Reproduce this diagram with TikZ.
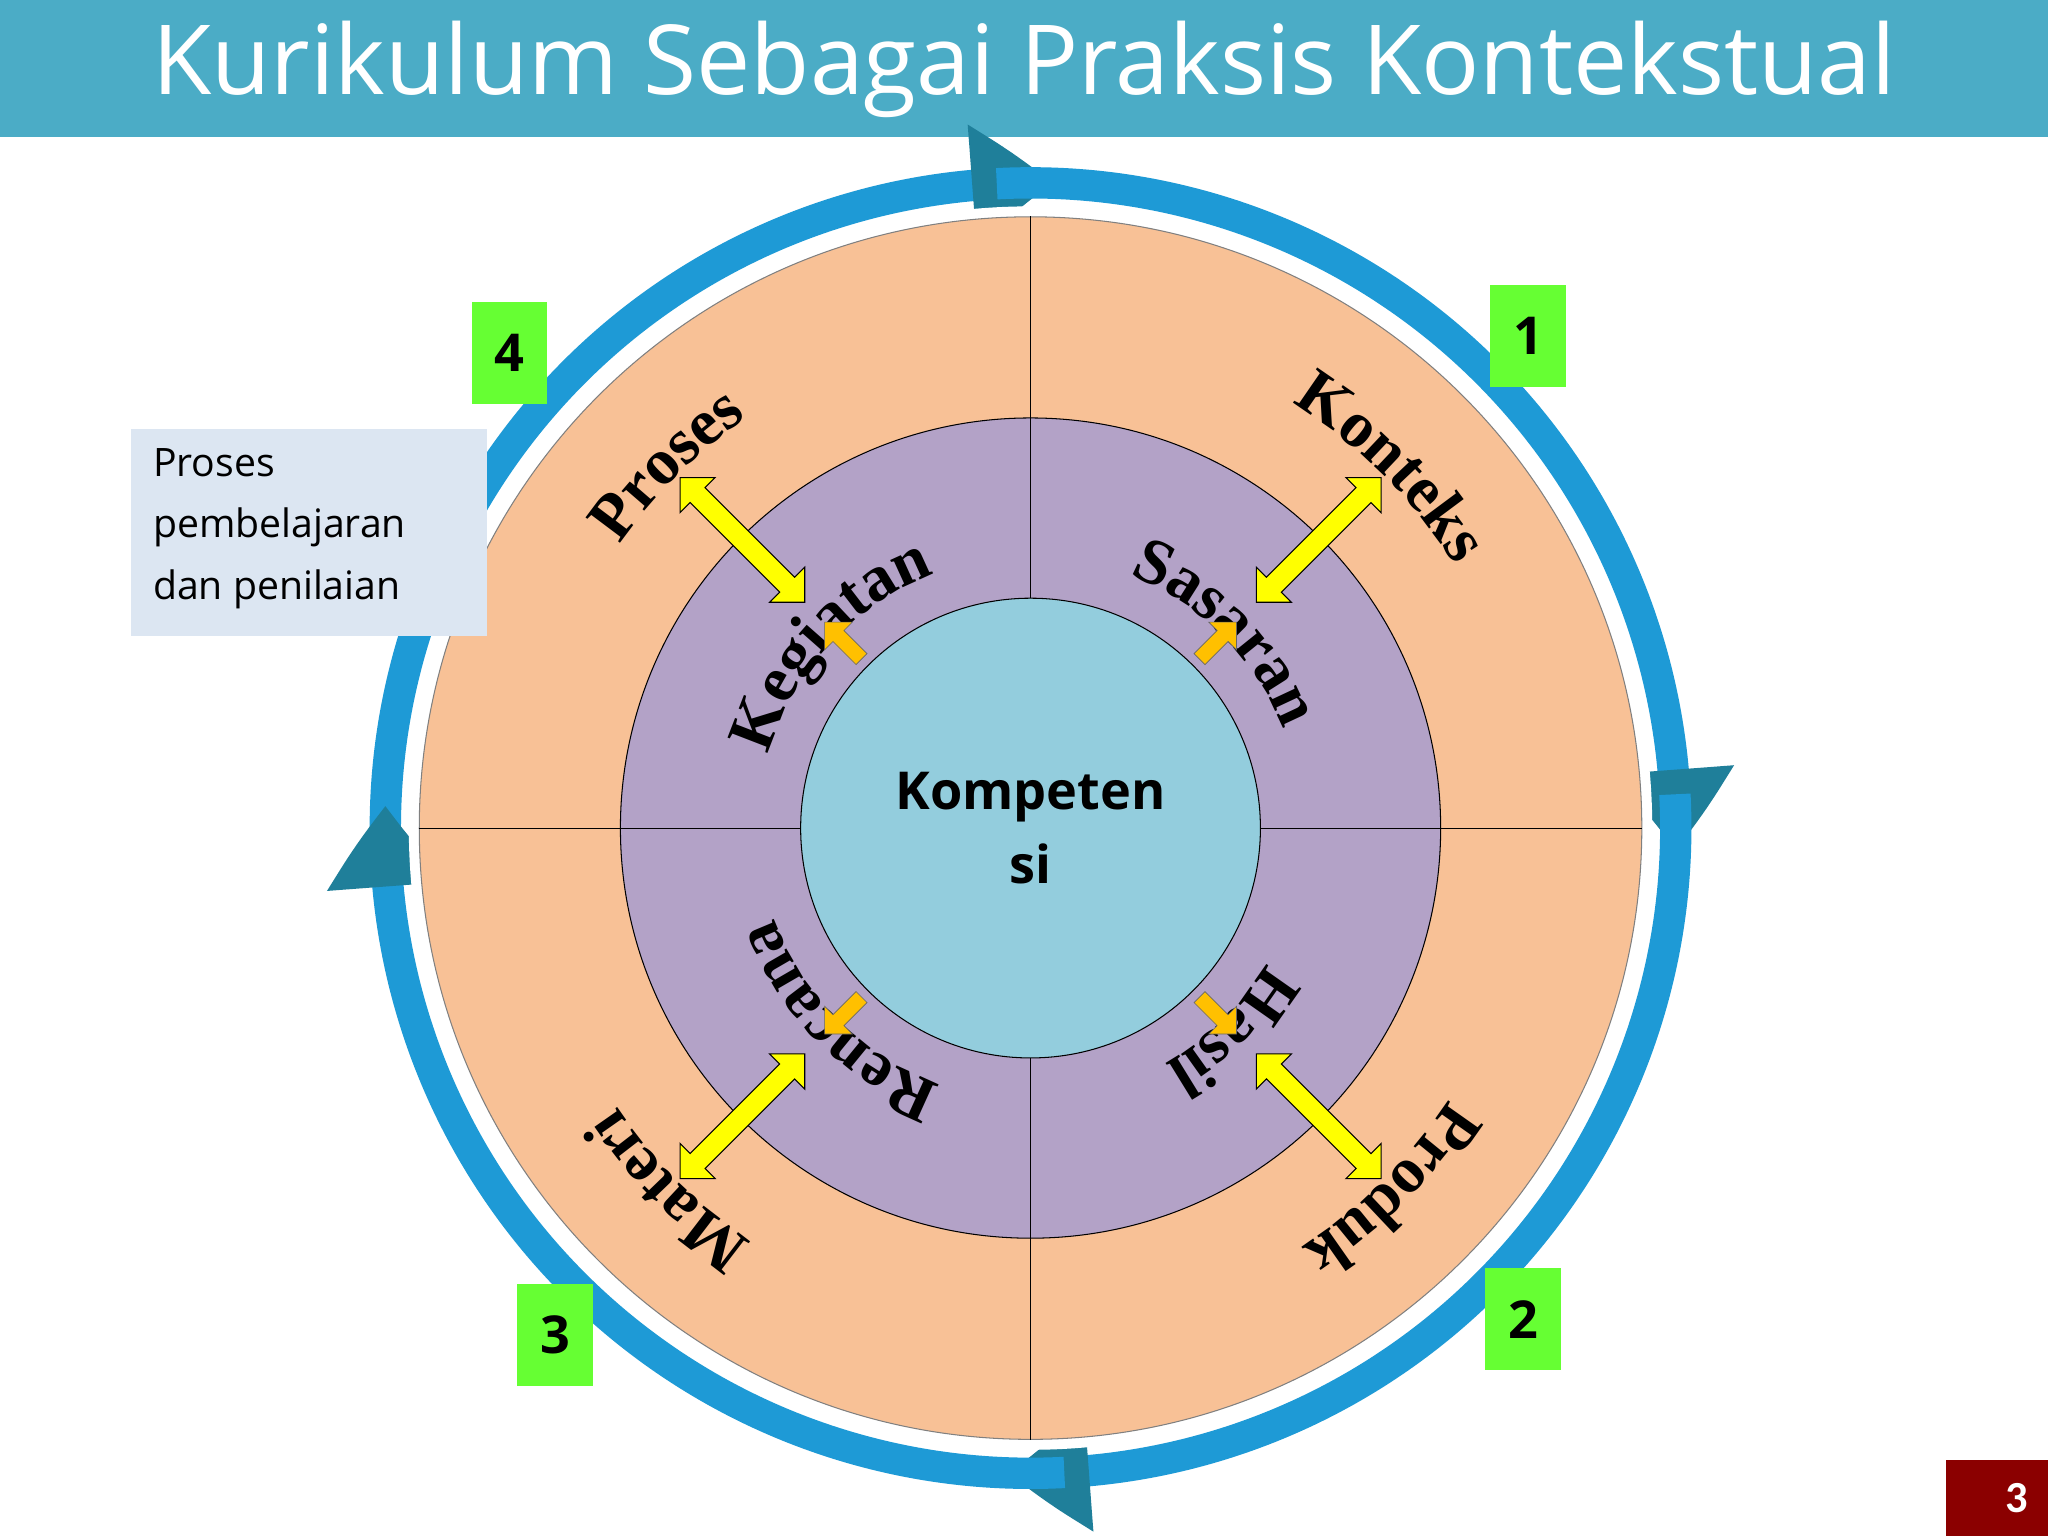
\documentclass[tikz,border=0pt]{standalone}
\usepackage{fontspec}
\setmainfont{Open Sans}
\newfontfamily\tms{Liberation Serif}
\newfontfamily\calfont{Carlito}
\usetikzlibrary{arrows.meta,bending,shapes.arrows,decorations.text,calc}
\definecolor{titlebar}{HTML}{4BACC6}
\definecolor{orng}{HTML}{F8C196}
\definecolor{purp}{HTML}{B3A2C7}
\definecolor{lblue}{HTML}{93CDDD}
\definecolor{ring}{HTML}{1E9AD6}
\definecolor{ringhead}{HTML}{1F7F9A}
\definecolor{grn}{HTML}{66FF33}
\definecolor{boxbg}{HTML}{DCE6F2}
\definecolor{dred}{HTML}{8B0000}
\definecolor{yel}{HTML}{FFFF00}
\definecolor{org}{HTML}{FFC000}
\tikzset{
 ringarc/.style={draw=ring,line width=24pt,-{Triangle[bend,width=90pt,length=62pt,color=ringhead]}},
 numbox/.style={fill=grn,minimum width=58pt,minimum height=78pt,inner sep=0pt,font=\fontsize{40}{40}\selectfont\bfseries},
 yarrow/.style={double arrow,fill=yel,draw=black,line width=0.8pt,minimum width=38pt,minimum height=135pt,inner sep=7pt,double arrow head extend=10pt},
 oarrow/.style={single arrow,fill=org,draw=black!60,line width=0.5pt,minimum width=30pt,minimum height=40pt,inner sep=5pt,single arrow head extend=8pt},
}
\newcommand{\arctext}[4]{%
 \path[decorate,decoration={text along path,text align=center,text={|\tms\bfseries\fontsize{50}{50}\selectfont|#4}}]
 (c) ++(#1:#3) arc[start angle=#1,end angle=#2,radius=#3];}
\begin{document}
\begin{tikzpicture}[x=1pt,y=1pt]
\useasboundingbox (0,0) rectangle (1568,1176);
\fill[white] (0,0) rectangle (1568,1176);
\fill[titlebar] (0,1071) rectangle (1568,1176);
\node[text=white,font=\fontsize{74}{74}\selectfont] (title) at (784,1123) {Kurikulum Sebagai Praksis Kontekstual};
\coordinate (c) at (789,542);
\draw[ringarc] (c) ++(183:494) arc[start angle=183,end angle=88,radius=494];
\draw[ringarc] (c) ++(93:494) arc[start angle=93,end angle=-2,radius=494];
\draw[ringarc] (c) ++(3:494) arc[start angle=3,end angle=-92,radius=494];
\draw[ringarc] (c) ++(-87:494) arc[start angle=-87,end angle=-182,radius=494];
\fill[white] (c) circle[radius=476];
\node[circle,fill=orng,draw=black!50,line width=0.8pt,minimum size=936pt,inner sep=0pt] (outer) at (c) {};
\node[circle,fill=purp,draw=black,line width=0.8pt,minimum size=628pt,inner sep=0pt] (mid) at (c) {};
\draw[line width=0.8pt] (outer.north) -- (outer.south) (outer.west) -- (outer.east);
\node[circle,fill=lblue,draw=black,line width=0.8pt,minimum size=352pt,inner sep=0pt,align=center,font=\fontsize{40}{56}\selectfont\bfseries] (comp) at (c) {Kompeten\\si};
\arctext{75}{15}{382}{Konteks}
\arctext{165}{105}{382}{Proses}
\arctext{-105}{-165}{382}{Materi}
\arctext{-15}{-75}{382}{Produk}
\arctext{80}{10}{208}{Sasaran}
\arctext{175}{100}{208}{Kegiatan}
\arctext{-100}{-170}{208}{Rencana}
\arctext{-20}{-70}{208}{Hasil}
\node[yarrow,rotate=45] (ya1) at ($(c)+(45:312)$) {};
\node[yarrow,rotate=135] (ya2) at ($(c)+(135:312)$) {};
\node[yarrow,rotate=-135] (ya3) at ($(c)+(-135:312)$) {};
\node[yarrow,rotate=-45] (ya4) at ($(c)+(-45:312)$) {};
\node[oarrow,rotate=45] (oa1) at ($(c)+(45:200)$) {};
\node[oarrow,rotate=135] (oa2) at ($(c)+(135:200)$) {};
\node[oarrow,rotate=-135] (oa3) at ($(c)+(-135:200)$) {};
\node[oarrow,rotate=-45] (oa4) at ($(c)+(-45:200)$) {};
\node[numbox] (n1) at (1170,919) {1};
\node[numbox] (n2) at (1166,166) {2};
\node[numbox] (n3) at (425,154) {3};
\node[numbox] (n4) at (390,906) {4};
\node[fill=boxbg,minimum width=273pt,minimum height=159pt,anchor=north west,inner sep=0pt] (sb) at (100,848) {};
\node[anchor=north west,align=left,font=\fontsize{30}{47}\selectfont,inner sep=0pt] (sbt) at (117,833) {Proses\\pembelajaran\\dan penilaian};
\node[fill=dred,text=white,minimum width=78pt,minimum height=58pt,anchor=south east,inner sep=0pt,font=\calfont\bfseries\fontsize{34}{34}\selectfont] (pg) at (1568,0) {\hspace*{30pt}3};
\end{tikzpicture}
\end{document}
